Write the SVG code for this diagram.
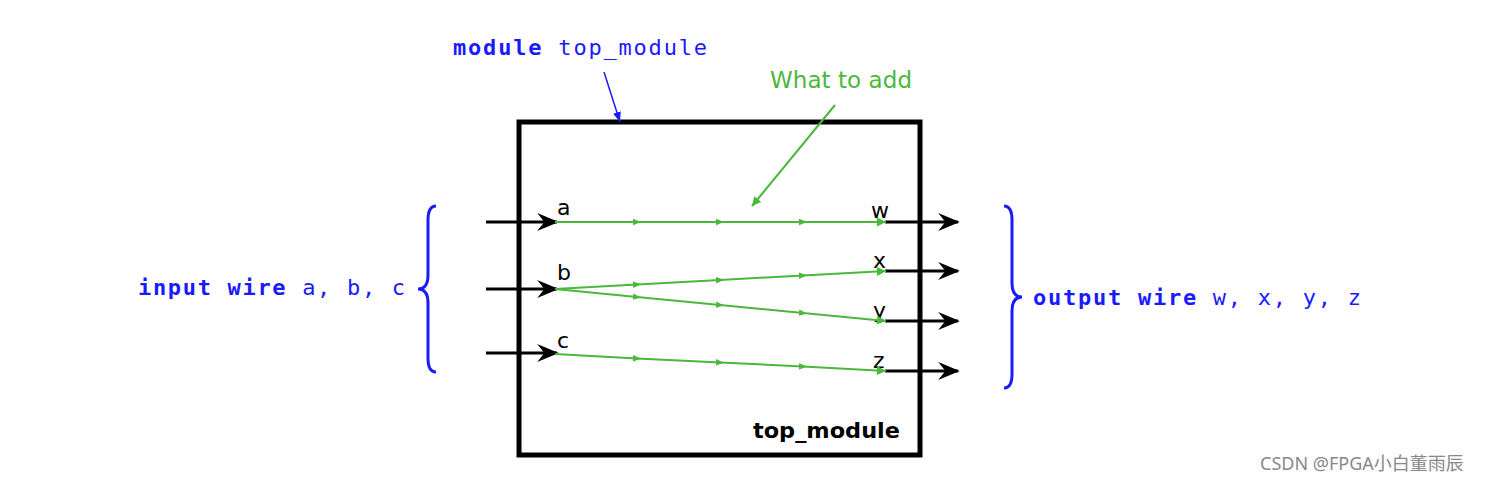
<svg xmlns="http://www.w3.org/2000/svg" width="1492" height="481" viewBox="0 0 1492 481">
<style>
.mono{font-family:"DejaVu Sans Mono",monospace;font-size:22px;fill:#1a1aff}
.b{font-weight:bold}
.lbl{font-family:"DejaVu Sans",sans-serif;font-size:22px;fill:#000}
.blk{stroke:#000;stroke-width:3;fill:none}
.grn{stroke:#4ab83a;stroke-width:2;fill:none}
.brace{stroke:#1a1aff;stroke-width:3;fill:none}
</style>
<defs>
<marker id="ak" viewBox="0 0 12 10" refX="11" refY="5" markerWidth="26" markerHeight="18" markerUnits="userSpaceOnUse" orient="auto"><path d="M0,0 L12,5 L0,10 L4,5 z" fill="#000"/></marker>
<marker id="ag" viewBox="0 0 10 10" refX="5" refY="5" markerWidth="8" markerHeight="8" markerUnits="userSpaceOnUse" orient="auto"><path d="M0,1 L10,5 L0,9 z" fill="#4ab83a"/></marker>
<marker id="agE" viewBox="0 0 10 10" refX="10" refY="5" markerWidth="10" markerHeight="9" markerUnits="userSpaceOnUse" orient="auto"><path d="M0,0 L10,5 L0,10 z" fill="#4ab83a"/></marker>
<marker id="abl" viewBox="0 0 10 10" refX="10" refY="5" markerWidth="10" markerHeight="10" markerUnits="userSpaceOnUse" orient="auto"><path d="M0,1 L10,5 L0,9 z" fill="#1a1aff"/></marker>
</defs>
<g id="box">
<rect x="519" y="122" width="401" height="333" fill="none" stroke="#000" stroke-width="5"/>
<text x="753" y="438" class="lbl b" font-size="23" textLength="147" lengthAdjust="spacingAndGlyphs">top_module</text>
</g>
<g id="labels">
<text x="557" y="215" class="lbl">a</text>
<text x="557" y="280" class="lbl">b</text>
<text x="557" y="348" class="lbl">c</text>
<text x="871" y="218" class="lbl">w</text>
<text x="873" y="268" class="lbl">x</text>
<text x="873" y="318" class="lbl">y</text>
<text x="873" y="368" class="lbl">z</text>
</g>
<g id="connectors">
<line x1="486" y1="222" x2="557" y2="222" class="blk" marker-end="url(#ak)"/>
<line x1="486" y1="289" x2="557" y2="289" class="blk" marker-end="url(#ak)"/>
<line x1="486" y1="353" x2="557" y2="353" class="blk" marker-end="url(#ak)"/>
<line x1="885" y1="222" x2="958" y2="222" class="blk" marker-end="url(#ak)"/>
<line x1="885" y1="271" x2="958" y2="271" class="blk" marker-end="url(#ak)"/>
<line x1="885" y1="321" x2="958" y2="321" class="blk" marker-end="url(#ak)"/>
<line x1="885" y1="371" x2="958" y2="371" class="blk" marker-end="url(#ak)"/>
<polyline points="555,222 637,222 720,222 803,222 886,222" class="grn" marker-mid="url(#ag)" marker-end="url(#agE)"/>
<polyline points="555,289 637,284.5 720,280 803,275.5 886,271" class="grn" marker-mid="url(#ag)" marker-end="url(#agE)"/>
<polyline points="555,289 637,297 720,305 803,313 886,321" class="grn" marker-mid="url(#ag)" marker-end="url(#agE)"/>
<polyline points="555,354 637,358.5 720,362.5 803,366.5 886,371" class="grn" marker-mid="url(#ag)" marker-end="url(#agE)"/>
<line x1="835" y1="105" x2="752" y2="206" class="grn" stroke-width="1.5" marker-end="url(#agE)"/>
<line x1="604" y1="72" x2="620" y2="122" stroke="#1a1aff" stroke-width="1.5" marker-end="url(#abl)"/>
</g>
<g id="braces">
<path d="M436,206 Q428,206 428,220 L428,275 Q428,289 418,289 Q428,289 428,303 L428,358 Q428,372 436,372" class="brace"/>
<path d="M1004,206 Q1012,206 1012,220 L1012,283 Q1012,297 1022,297 Q1012,297 1012,311 L1012,374 Q1012,388 1004,388" class="brace"/>
</g>
<g id="texts">
<text x="453" y="55" class="mono" textLength="254" lengthAdjust="spacing"><tspan class="b">module</tspan> top_module</text>
<text x="138" y="295" class="mono" textLength="267" lengthAdjust="spacing"><tspan class="b">input wire</tspan> a, b, c</text>
<text x="1033" y="305" class="mono" textLength="328" lengthAdjust="spacing"><tspan class="b">output wire</tspan> w, x, y, z</text>
<text x="770" y="88" font-family="DejaVu Sans,sans-serif" font-size="23" fill="#4ab83a" textLength="142">What to add</text>
<text x="1260" y="470" font-family="Noto Sans,Noto Sans CJK SC,sans-serif" font-size="18" fill="#888">CSDN @FPGA小白董雨辰</text>
</g>
</svg>
